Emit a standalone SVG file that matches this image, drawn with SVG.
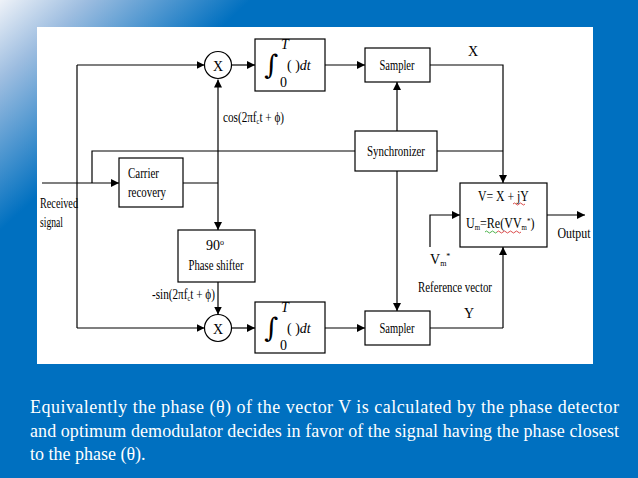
<svg xmlns="http://www.w3.org/2000/svg" width="638" height="478" viewBox="0 0 638 478">
<defs>
<linearGradient id="bg" x1="0" y1="0" x2="115" y2="125" gradientUnits="userSpaceOnUse">
<stop offset="0" stop-color="#eef2f8"/>
<stop offset="0.35" stop-color="#9dbde0"/>
<stop offset="1" stop-color="#0070C0"/>
</linearGradient>
<marker id="ah" viewBox="0 0 10 10" refX="10" refY="5" markerWidth="8" markerHeight="8" markerUnits="userSpaceOnUse" orient="auto">
<path d="M0,0 L10,5 L0,10 z" fill="#000"/>
</marker>
<style>
.box{fill:#fff;stroke:#000;stroke-width:1.2}
.ln{fill:none;stroke:#000;stroke-width:1.2}
.ar{fill:none;stroke:#000;stroke-width:1.2;marker-end:url(#ah)}
.t{font-family:"Liberation Serif","Times New Roman",Tinos,serif;font-size:14px;fill:#000}
.int{font-family:"DejaVu Serif",serif;font-size:27px;fill:#000}
.c{text-anchor:middle}
.p{font-family:"Liberation Serif","Times New Roman",Tinos,serif;font-size:18px;fill:#fff}
.sq{fill:none;stroke-width:0.8}
</style>
</defs>
<rect x="0" y="0" width="638" height="478" fill="#0070C0"/>
<rect x="0" y="0" width="638" height="478" fill="url(#bg)"/>
<rect x="37" y="27" width="556" height="337" fill="#fff"/>

<g id="connectors">
<path class="ar" d="M42,183 H119"/>
<path class="ln" d="M77,65 V328"/>
<path class="ar" d="M77,65 H204.5"/>
<path class="ar" d="M77,328 H204.5"/>
<path class="ln" d="M92,183 V151 H355"/>
<path class="ln" d="M437,151 H503"/>
<path class="ln" d="M430,65 H503 V151"/>
<path class="ar" d="M503,151 V183"/>
<path class="ar" d="M397,131 V82"/>
<path class="ar" d="M397,171 V311"/>
<path class="ln" d="M183,183 H218"/>
<path class="ar" d="M218,183 V79.5"/>
<path class="ar" d="M218,183 V230"/>
<path class="ar" d="M218,282 V314.5"/>
<path class="ar" d="M231.5,65 H255"/>
<path class="ar" d="M325,65 H365"/>
<path class="ar" d="M231.5,328 H255"/>
<path class="ar" d="M325,328 H365"/>
<path class="ln" d="M430,328 H503"/>
<path class="ar" d="M503,328 V247"/>
<path class="ar" d="M430,247 V215 H460"/>
<path class="ar" d="M547,215 H585"/>
</g>

<g id="mult-top">
<circle cx="218" cy="65" r="13.5" class="box"/>
<text class="t c" x="218" y="70.5" font-size="15">X</text>
</g>
<g id="integrator-top">
<rect class="box" x="255" y="39" width="70" height="52"/>
<text class="int" x="264" y="74" font-style="italic">∫</text>
<text class="t" x="281" y="49" font-size="8" font-style="italic">T</text>
<text class="t" x="280" y="87" font-size="9">0</text>
<text class="t" x="287" y="70" font-size="13"><tspan>( )</tspan><tspan font-style="italic">dt</tspan></text>
</g>
<g id="sampler-top">
<rect class="box" x="365" y="48" width="65" height="34"/>
<text class="t c" x="397" y="69.5" textLength="35" lengthAdjust="spacingAndGlyphs">Sampler</text>
</g>
<text class="t c" x="473" y="56">X</text>
<text class="t" transform="translate(223,122) scale(0.8,1)" font-size="13">cos(2πf<tspan font-size="8" dy="2">c</tspan><tspan dy="-2">t + ϕ)</tspan></text>

<g id="synchronizer">
<rect class="box" x="355" y="131" width="82" height="40"/>
<text class="t c" x="396" y="155.5" textLength="58" lengthAdjust="spacingAndGlyphs">Synchronizer</text>
</g>
<g id="carrier-recovery">
<rect class="box" x="119" y="158" width="64" height="49"/>
<text class="t" x="128" y="178" textLength="31" lengthAdjust="spacingAndGlyphs">Carrier</text>
<text class="t" x="128" y="197" textLength="38" lengthAdjust="spacingAndGlyphs">recovery</text>
</g>
<text class="t" x="40" y="208" textLength="38" lengthAdjust="spacingAndGlyphs">Received</text>
<text class="t" x="40" y="227" textLength="23" lengthAdjust="spacingAndGlyphs">signal</text>

<g id="phase-shifter">
<rect class="box" x="178" y="230" width="77" height="52"/>
<text class="t c" x="215" y="250">90<tspan font-size="8" dy="-5">o</tspan></text>
<text class="t c" x="216" y="270" textLength="55" lengthAdjust="spacingAndGlyphs">Phase shifter</text>
</g>
<text class="t" transform="translate(152,299) scale(0.8,1)" font-size="13">-sin(2πf<tspan font-size="8" dy="2">c</tspan><tspan dy="-2">t + ϕ)</tspan></text>

<g id="mult-bottom">
<circle cx="218" cy="328" r="13.5" class="box"/>
<text class="t c" x="218" y="333.5" font-size="15">X</text>
</g>
<g id="integrator-bottom">
<rect class="box" x="255" y="302" width="70" height="51"/>
<text class="int" x="264" y="337" font-style="italic">∫</text>
<text class="t" x="281" y="312" font-size="8" font-style="italic">T</text>
<text class="t" x="280" y="350" font-size="9">0</text>
<text class="t" x="287" y="333" font-size="13"><tspan>( )</tspan><tspan font-style="italic">dt</tspan></text>
</g>
<g id="sampler-bottom">
<rect class="box" x="365" y="311" width="65" height="34"/>
<text class="t c" x="397" y="332.5" textLength="35" lengthAdjust="spacingAndGlyphs">Sampler</text>
</g>
<text class="t c" x="469" y="318">Y</text>

<g id="vector-box">
<rect class="box" x="460" y="183" width="87" height="64"/>
<text class="t" transform="translate(478,201) scale(0.84,1)">V= X + jY</text>
<text class="t" transform="translate(466,228) scale(0.86,1)">U<tspan font-size="8" dy="2">m</tspan><tspan dy="-2">=Re(VV</tspan><tspan font-size="8" dy="2">m</tspan><tspan font-size="8" dy="-6">*</tspan><tspan dy="4">)</tspan></text>
<path class="sq" stroke="#d02020" d="M513,204 q1.5,-2 3,0 t3,0 t3,0 t3,0"/>
<path class="sq" stroke="#20a020" d="M485,232 q1.5,-2 3,0 t3,0 t3,0 t3,0"/>
<path class="sq" stroke="#d02020" d="M497,232 q1.5,-2 3,0 t3,0 t3,0 t3,0 t3,0 t3,0 t3,0 t3,0"/>
</g>
<text class="t c" x="574" y="238" textLength="33" lengthAdjust="spacingAndGlyphs">Output</text>
<text class="t" x="430" y="264">V<tspan font-size="8" dy="2">m</tspan><tspan font-size="8" dy="-7">*</tspan></text>
<text class="t c" x="455" y="292" textLength="74" lengthAdjust="spacingAndGlyphs">Reference vector</text>

<g id="caption">
<text class="p" x="30" y="413" textLength="589" lengthAdjust="spacing">Equivalently the phase (θ) of the vector V is calculated by the phase detector</text>
<text class="p" x="30" y="437" textLength="589" lengthAdjust="spacing">and optimum demodulator decides in favor of the signal having the phase closest</text>
<text class="p" x="30" y="460">to the phase (θ).</text>
</g>
</svg>
